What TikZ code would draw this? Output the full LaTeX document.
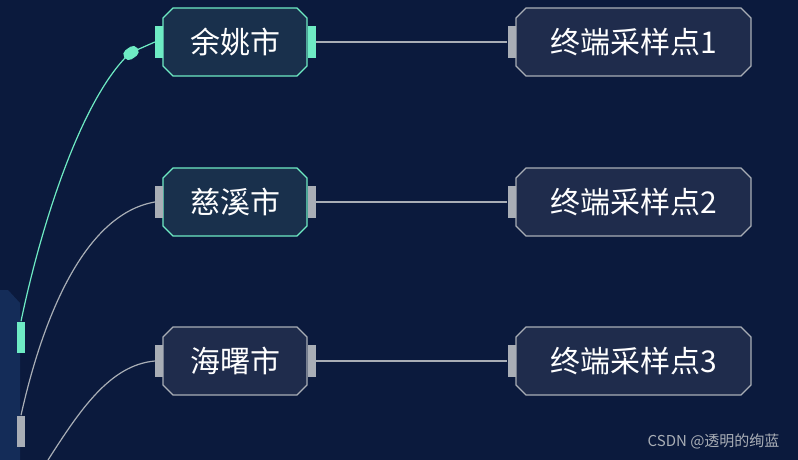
\documentclass[tikz,border=0pt]{standalone}
\usepackage{fontspec}
\newfontfamily\cjk{Noto Sans CJK SC}
\usetikzlibrary{shapes.misc}
\definecolor{bg}{HTML}{0B1A3D}
\definecolor{grn}{HTML}{6EEBC4}
\definecolor{gry}{HTML}{A9AEB6}
\definecolor{fillg}{HTML}{19304C}
\definecolor{fillb}{HTML}{1F2C4C}
\definecolor{panel}{HTML}{142C58}
\tikzset{
 box/.style={chamfered rectangle,chamfered rectangle xsep=5pt,chamfered rectangle ysep=5pt,draw=#1,line width=1.2pt,minimum height=68pt,inner sep=0pt,font=\cjk\fontsize{30}{30}\selectfont,text=white},
 port/.style={fill=#1,minimum width=8pt,minimum height=32pt,inner sep=0pt},
 link/.style={draw=gry,line width=1.2pt},
}
\begin{document}
\begin{tikzpicture}[x=1pt,y=-1pt]
\fill[bg] (0,0) rectangle (798,460);
\useasboundingbox (0,0) rectangle (798,460);
\fill[panel] (0,290) -- (8,290) -- (20,303) -- (20,460) -- (0,460) -- cycle;
\foreach \i/\y/\c/\f/\t in {1/42/grn/fillg/余姚市,2/202/grn/fillg/慈溪市,3/361/gry/fillb/海曙市}{
 \node[box=\c,fill=\f,minimum width=144pt] (c\i) at (235,\y) {\t};
 \node[box=gry,fill=fillb,minimum width=235pt] (t\i) at (633.5,\y) {终端采样点\i};
}
\node[port=grn] (cl1) at (159,42) {};
\node[port=grn] (cr1) at (311.5,42) {};
\node[port=gry] (cl2) at (159,202) {};
\node[port=gry] (cr2) at (311.5,202) {};
\node[port=gry] (cl3) at (159,361) {};
\node[port=gry] (cr3) at (311.5,361) {};
\foreach \i/\y in {1/42,2/202,3/361}{
 \node[port=gry] (tl\i) at (511.5,\y) {};
 \draw[link] (cr\i.east) -- (tl\i.west);
}
\node[port=grn,minimum height=31pt] (p1) at (21,337) {};
\node[port=gry,minimum height=31pt] (p2) at (21,431) {};
\coordinate (p3) at (48,460);
\draw[grn,line width=1.2pt] (p1.north) .. controls (40,230) and (80,100) .. (130,53) -- (cl1.west);
\node[fill=grn,rounded corners=5pt,rotate=35,minimum width=16pt,minimum height=11pt,inner sep=0pt] (blob) at (131,53) {};
\draw[link] (p2.north) .. controls (40,330) and (80,215) .. (cl2.west);
\draw[link] (p3) .. controls (80,410) and (110,365) .. (cl3.west);
\node[anchor=south east,text=gry,font=\cjk\fontsize{15}{15}\selectfont] (wm) at (783,453) {CSDN @透明的绚蓝};
\end{tikzpicture}
\end{document}
